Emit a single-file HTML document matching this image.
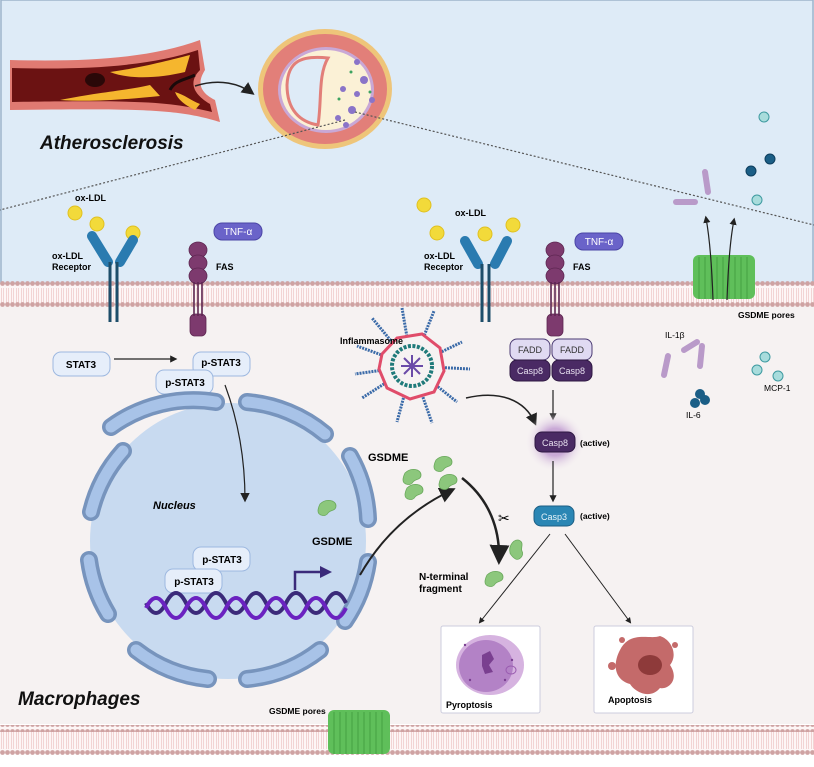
<!DOCTYPE html>
<html><head><meta charset="utf-8"><style>
html,body{margin:0;padding:0;background:#fff}
svg{display:block}
text{font-family:"Liberation Sans",sans-serif}
</style></head><body>
<svg width="814" height="767" viewBox="0 0 814 767" xmlns="http://www.w3.org/2000/svg">
<defs>
<pattern id="bead" x="0" y="0" width="5" height="7" patternUnits="userSpaceOnUse"><circle cx="2.5" cy="3.5" r="2.4" fill="#cfa3a3"/></pattern>
<pattern id="tail" width="5" height="18" patternUnits="userSpaceOnUse"><line x1="1.5" y1="0" x2="1.5" y2="18" stroke="#efcccc" stroke-width="0.8"/><line x1="3.5" y1="0" x2="3.5" y2="18" stroke="#efcccc" stroke-width="0.8"/></pattern>
<radialGradient id="glow"><stop offset="0.45" stop-color="#c9a9d6"/><stop offset="1" stop-color="#f6f2f2" stop-opacity="0"/></radialGradient>
<marker id="ar" markerWidth="8" markerHeight="8" refX="6" refY="4" orient="auto"><path d="M0,0 L8,4 L0,8 Z" fill="#222"/></marker>
<marker id="arB" markerWidth="6" markerHeight="6" refX="4" refY="3" orient="auto"><path d="M0,0 L6,3 L0,6 Z" fill="#222"/></marker>
<g id="gs"><path d="M0,0 c6,-6 16,-4 16,2 c0,5 -6,4 -8,7 c-2,4 -10,3 -10,-2 c0,-3 1,-5 2,-7z" fill="#8cc77c" stroke="#6aa95c" stroke-width="0.8"/></g>
<g id="pore"><rect x="0" y="0" width="62" height="44" rx="6" fill="#5fbf5a"/>
<g stroke="#3f9a3c" stroke-width="0.8"><line x1="6" y1="2" x2="6" y2="44"/><line x1="12" y1="2" x2="12" y2="44"/><line x1="18" y1="2" x2="18" y2="44"/><line x1="24" y1="2" x2="24" y2="44"/><line x1="30" y1="2" x2="30" y2="44"/><line x1="36" y1="2" x2="36" y2="44"/><line x1="42" y1="2" x2="42" y2="44"/><line x1="48" y1="2" x2="48" y2="44"/><line x1="54" y1="2" x2="54" y2="44"/></g></g>
</defs>

<rect x="0" y="0" width="814" height="284" fill="#deebf7"/>
<rect x="1" y="0" width="812" height="284" fill="none" stroke="#9db5cc" stroke-width="1.5"/>
<rect x="0" y="284" width="814" height="440" fill="#f6f2f2"/>
<rect x="0" y="755" width="814" height="12" fill="#ffffff"/>

<rect x="0" y="284" width="814" height="22" fill="#fdf6f6"/>
<rect x="0" y="288" width="814" height="16" fill="url(#tail)"/>
<rect x="0" y="280" width="814" height="7" fill="url(#bead)"/>
<rect x="0" y="302" width="814" height="7" fill="url(#bead)" transform="translate(0,0)"/>
<rect x="0" y="726" width="814" height="28" fill="#fdf6f6"/>
<rect x="0" y="731" width="814" height="18" fill="url(#tail)"/>
<rect x="0" y="725" width="814" height="7" fill="url(#bead)"/>
<rect x="0" y="748" width="814" height="7" fill="url(#bead)"/>

<path d="M10,60 C90,62 150,58 200,40 L205,70 C200,78 195,90 215,100 L220,122 C180,110 150,108 10,110 Z" fill="#e07a72"/>
<path d="M12,68 C90,70 150,66 198,50 L200,70 C190,80 190,92 210,104 L212,112 C170,102 150,100 12,102 Z" fill="#6b1212"/>
<path d="M110,72 C140,68 170,60 190,55 L185,72 C160,78 130,80 110,72 Z" fill="#f5b62e"/>
<path d="M60,100 C100,92 130,90 150,85 L160,96 C120,100 90,102 60,100 Z" fill="#f5b62e"/>
<path d="M175,92 C185,95 190,100 200,104 L195,110 C185,105 178,100 175,92Z" fill="#f5b62e"/>
<path d="M170,90 C175,80 185,80 195,75" stroke="#1a0a0a" stroke-width="3" fill="none"/>
<ellipse cx="95" cy="80" rx="10" ry="7" fill="#2a0808"/>
<path d="M195,86 C220,78 240,84 252,93" stroke="#222" stroke-width="1.6" fill="none" marker-end="url(#ar)"/>
<text x="40" y="149" font-size="19" font-weight="bold" font-style="italic" fill="#111">Atherosclerosis</text>
<ellipse cx="325" cy="89" rx="67" ry="60" fill="#eec57a"/>
<ellipse cx="325" cy="89" rx="62" ry="55" fill="#e27f79"/>
<ellipse cx="326" cy="90" rx="48" ry="43" fill="#c9a8d6"/>
<ellipse cx="326" cy="90" rx="45" ry="40" fill="#fbf1d6"/>
<path d="M287,85 C288,62 300,55 328,58 C318,75 322,100 318,125 C300,122 287,110 287,85Z" fill="#deebf7" stroke="#e27f79" stroke-width="3"/>
<g fill="#8a74c8"><circle cx="357" cy="62" r="3"/><circle cx="364" cy="80" r="4"/><circle cx="343" cy="89" r="3"/><circle cx="357" cy="94" r="3"/><circle cx="352" cy="110" r="4"/><circle cx="338" cy="118" r="3"/><circle cx="346" cy="125" r="3"/><circle cx="372" cy="100" r="3"/></g>
<g fill="#3da360"><circle cx="351" cy="72" r="1.5"/><circle cx="339" cy="99" r="1.5"/><circle cx="370" cy="92" r="1.5"/></g>
<line x1="345" y1="120" x2="0" y2="210" stroke="#555" stroke-width="1.2" stroke-dasharray="2,2"/>
<line x1="355" y1="112" x2="814" y2="225" stroke="#555" stroke-width="1.2" stroke-dasharray="2,2"/>

<circle cx="75" cy="213" r="7" fill="#f2da3a" stroke="#e0c020"/><circle cx="97" cy="224" r="7" fill="#f2da3a" stroke="#e0c020"/><circle cx="133" cy="233" r="7" fill="#f2da3a" stroke="#e0c020"/>
<path d="M92,236 L108,262" stroke="#2a7bb0" stroke-width="10" stroke-linecap="round"/>
<path d="M133,240 L120,262" stroke="#2a7bb0" stroke-width="10" stroke-linecap="round"/>
<path d="M110,262 L110,322 M117,262 L117,322" stroke="#1d4e6a" stroke-width="3"/>
<text x="75" y="201" font-size="9" font-weight="bold">ox-LDL</text>
<text x="52" y="259" font-size="9" font-weight="bold">ox-LDL</text><text x="52" y="270" font-size="9" font-weight="bold">Receptor</text>
<g fill="#7d3a6e" stroke="#5e2752" stroke-width="0.8">
<ellipse cx="198" cy="250" rx="9" ry="8"/><ellipse cx="198" cy="263" rx="9" ry="8"/><ellipse cx="198" cy="276" rx="9" ry="8"/>
<rect x="190" y="314" width="16" height="22" rx="5"/></g>
<path d="M194,282 V316 M198,282 V316 M202,282 V316" stroke="#5e2752" stroke-width="1.6"/>
<text x="216" y="270" font-size="9" font-weight="bold">FAS</text>
<rect x="214" y="223" width="48" height="17" rx="8" fill="#6a63c9" stroke="#4b45a6"/><text x="238" y="235" font-size="10" fill="#fff" text-anchor="middle">TNF-α</text>

<circle cx="424" cy="205" r="7" fill="#f2da3a" stroke="#e0c020"/><circle cx="437" cy="233" r="7" fill="#f2da3a" stroke="#e0c020"/><circle cx="485" cy="234" r="7" fill="#f2da3a" stroke="#e0c020"/><circle cx="513" cy="225" r="7" fill="#f2da3a" stroke="#e0c020"/>
<path d="M465,241 L478,264" stroke="#2a7bb0" stroke-width="10" stroke-linecap="round"/>
<path d="M507,241 L495,264" stroke="#2a7bb0" stroke-width="10" stroke-linecap="round"/>
<path d="M482,264 V322 M489,264 V322" stroke="#1d4e6a" stroke-width="3"/>
<text x="455" y="216" font-size="9" font-weight="bold">ox-LDL</text>
<text x="424" y="259" font-size="9" font-weight="bold">ox-LDL</text><text x="424" y="270" font-size="9" font-weight="bold">Receptor</text>
<g fill="#7d3a6e" stroke="#5e2752" stroke-width="0.8">
<ellipse cx="555" cy="250" rx="9" ry="8"/><ellipse cx="555" cy="263" rx="9" ry="8"/><ellipse cx="555" cy="276" rx="9" ry="8"/>
<rect x="547" y="314" width="16" height="22" rx="5"/></g>
<path d="M551,282 V316 M555,282 V316 M559,282 V316" stroke="#5e2752" stroke-width="1.6"/>
<text x="573" y="270" font-size="9" font-weight="bold">FAS</text>
<rect x="575" y="233" width="48" height="17" rx="8" fill="#6a63c9" stroke="#4b45a6"/><text x="599" y="245" font-size="10" fill="#fff" text-anchor="middle">TNF-α</text>

<use href="#pore" x="693" y="255"/>
<path d="M713,300 C712,270 710,240 706,218" stroke="#222" stroke-width="1.2" fill="none" marker-end="url(#arB)"/>
<path d="M727,300 C728,270 730,240 734,220" stroke="#222" stroke-width="1.2" fill="none" marker-end="url(#arB)"/>
<text x="738" y="318" font-size="8.5" font-weight="bold">GSDME pores</text>
<path d="M705,172 L708,192" stroke="#b99ac9" stroke-width="6" stroke-linecap="round"/>
<path d="M676,202 L695,202" stroke="#b99ac9" stroke-width="6" stroke-linecap="round"/>
<circle cx="764" cy="117" r="5" fill="#a8dcdc" stroke="#3e9aa0"/><circle cx="770" cy="159" r="5" fill="#1b5e86" stroke="#0e3e5e"/><circle cx="751" cy="171" r="5" fill="#1b5e86" stroke="#0e3e5e"/><circle cx="757" cy="200" r="5" fill="#a8dcdc" stroke="#3e9aa0"/>
<text x="665" y="338" font-size="8.5">IL-1β</text>
<path d="M684,350 L697,342 M668,356 L664,375 M702,346 L700,366" stroke="#b99ac9" stroke-width="6" stroke-linecap="round"/>
<circle cx="765" cy="357" r="5" fill="#a8dcdc" stroke="#3e9aa0"/><circle cx="757" cy="370" r="5" fill="#a8dcdc" stroke="#3e9aa0"/><circle cx="778" cy="376" r="5" fill="#a8dcdc" stroke="#3e9aa0"/>
<text x="764" y="391" font-size="8.5">MCP-1</text>
<circle cx="695" cy="403" r="5" fill="#1b5e86"/><circle cx="705" cy="400" r="5" fill="#1b5e86"/><circle cx="700" cy="394" r="5" fill="#1b5e86"/>
<text x="686" y="418" font-size="8.5">IL-6</text>

<rect x="53" y="352" width="57" height="24" rx="8" fill="#e6eefa" stroke="#9db8e0"/><text x="81" y="368" font-size="10" font-weight="bold" text-anchor="middle">STAT3</text>
<line x1="114" y1="359" x2="175" y2="359" stroke="#222" stroke-width="1.2" marker-end="url(#arB)"/>
<rect x="193" y="352" width="57" height="24" rx="8" fill="#e6eefa" stroke="#9db8e0"/><text x="221" y="366" font-size="10" font-weight="bold" text-anchor="middle">p-STAT3</text>
<rect x="156" y="370" width="57" height="24" rx="8" fill="#e6eefa" stroke="#9db8e0"/><text x="185" y="386" font-size="10" font-weight="bold" text-anchor="middle">p-STAT3</text>

<circle cx="228" cy="541" r="138" fill="#c8daf0"/>
<g fill="none" stroke="#7794bd" stroke-width="18" stroke-linecap="round">
<path d="M111,427 A140,140 0 0 1 216,402"/><path d="M247,402 A140,140 0 0 1 325,434"/>
<path d="M350,456 A140,140 0 0 1 368,519"/><path d="M368,562 A140,140 0 0 1 345,621"/>
<path d="M320,650 A140,140 0 0 1 247,679"/><path d="M208,679 A140,140 0 0 1 136,650"/>
<path d="M108,614 A140,140 0 0 1 89,560"/><path d="M91,512 A140,140 0 0 1 123,451"/>
</g>
<g fill="none" stroke="#a8c3e8" stroke-width="11" stroke-linecap="round">
<path d="M111,427 A140,140 0 0 1 216,402"/><path d="M247,402 A140,140 0 0 1 325,434"/>
<path d="M350,456 A140,140 0 0 1 368,519"/><path d="M368,562 A140,140 0 0 1 345,621"/>
<path d="M320,650 A140,140 0 0 1 247,679"/><path d="M208,679 A140,140 0 0 1 136,650"/>
<path d="M108,614 A140,140 0 0 1 89,560"/><path d="M91,512 A140,140 0 0 1 123,451"/>
</g>
<path d="M225,385 C238,420 245,460 245,500" stroke="#222" stroke-width="1.2" fill="none" marker-end="url(#ar)"/>
<text x="153" y="509" font-size="11" font-weight="bold" font-style="italic">Nucleus</text>
<use href="#gs" x="320" y="504"/>
<text x="312" y="545" font-size="11" font-weight="bold">GSDME</text>
<rect x="193" y="547" width="57" height="24" rx="8" fill="#e6eefa" stroke="#9db8e0"/><text x="222" y="563" font-size="10" font-weight="bold" text-anchor="middle">p-STAT3</text>
<rect x="165" y="569" width="57" height="24" rx="8" fill="#e6eefa" stroke="#9db8e0"/><text x="194" y="585" font-size="10" font-weight="bold" text-anchor="middle">p-STAT3</text>
<path d="M295,590 V572 H322" stroke="#3b2a7a" stroke-width="2.5" fill="none"/><path d="M320,566 L332,572 L320,578Z" fill="#3b2a7a"/>
<path d="M146,598 Q156,618 166,598 T186,598 T206,598 T226,598 T246,598 T266,598 T286,598 T306,598 T326,598 T346,598" stroke="#3b2a7a" stroke-width="4" fill="none" transform="translate(0,5)"/>
<path d="M146,613 Q156,593 166,613 T186,613 T206,613 T226,613 T246,613 T266,613 T286,613 T306,613 T326,613 T346,613" stroke="#6a22c0" stroke-width="4" fill="none" transform="translate(0,-5)"/>

<path d="M360,575 C380,540 410,510 452,490" stroke="#222" stroke-width="2" fill="none" marker-end="url(#ar)"/>
<text x="368" y="461" font-size="11" font-weight="bold">GSDME</text>
<use href="#gs" x="405" y="473"/><use href="#gs" x="436" y="460"/><use href="#gs" x="407" y="488"/><use href="#gs" x="441" y="478"/>
<path d="M462,478 C490,500 500,530 499,560" stroke="#222" stroke-width="2.5" fill="none" marker-end="url(#ar)"/>
<text x="498" y="523" font-size="14">✂</text>
<use href="#gs" x="511" y="545" transform="rotate(-60 518 550)"/>
<use href="#gs" x="487" y="575"/>
<text x="419" y="580" font-size="10" font-weight="bold">N-terminal</text><text x="419" y="592" font-size="10" font-weight="bold">fragment</text>

<g transform="translate(412,366)">
<g stroke="#3a6aa8" stroke-width="3" stroke-dasharray="2,1">
<line x1="0" y1="0" x2="-55" y2="-20"/><line x1="0" y1="0" x2="-40" y2="-48"/><line x1="0" y1="0" x2="-10" y2="-58"/><line x1="0" y1="0" x2="22" y2="-55"/><line x1="0" y1="0" x2="50" y2="-24"/><line x1="0" y1="0" x2="58" y2="3"/><line x1="0" y1="0" x2="45" y2="36"/><line x1="0" y1="0" x2="20" y2="57"/><line x1="0" y1="0" x2="-15" y2="56"/><line x1="0" y1="0" x2="-50" y2="32"/><line x1="0" y1="0" x2="-57" y2="8"/></g>
<polygon points="-30,-12 -15,-28 10,-32 28,-18 32,5 22,26 -2,33 -25,22 -33,3" fill="#f6f2f2" stroke="#e04c6a" stroke-width="3"/>
<circle r="20" fill="none" stroke="#1f7a7a" stroke-width="4" stroke-dasharray="3,1.5"/>
<circle r="14" fill="#f6f2f2"/>
<g stroke="#6a4aa8" stroke-width="2"><line x1="-11" y1="0" x2="11" y2="0"/><line x1="0" y1="-11" x2="0" y2="11"/><line x1="-8" y1="-8" x2="8" y2="8"/><line x1="-8" y1="8" x2="8" y2="-8"/></g>
</g>
<text x="340" y="344" font-size="9" font-weight="bold">Inflammasome</text>
<path d="M466,398 C500,390 525,400 535,423" stroke="#222" stroke-width="1.5" fill="none" marker-end="url(#ar)"/>

<rect x="510" y="339" width="40" height="21" rx="7" fill="#e0daf2" stroke="#4a3a72"/><text x="530" y="353" font-size="9" text-anchor="middle" fill="#333">FADD</text>
<rect x="552" y="339" width="40" height="21" rx="7" fill="#e0daf2" stroke="#4a3a72"/><text x="572" y="353" font-size="9" text-anchor="middle" fill="#333">FADD</text>
<rect x="510" y="360" width="40" height="21" rx="7" fill="#4a2a64" stroke="#2e1842"/><text x="530" y="374" font-size="9" text-anchor="middle" fill="#e8e0f0">Casp8</text>
<rect x="552" y="360" width="40" height="21" rx="7" fill="#4a2a64" stroke="#2e1842"/><text x="572" y="374" font-size="9" text-anchor="middle" fill="#e8e0f0">Casp8</text>
<line x1="553" y1="390" x2="553" y2="418" stroke="#222" stroke-width="1.2" marker-end="url(#arB)"/>
<circle cx="555" cy="442" r="30" fill="url(#glow)"/>
<rect x="535" y="432" width="40" height="20" rx="7" fill="#4a2a64" stroke="#2e1842"/><text x="555" y="446" font-size="9" text-anchor="middle" fill="#e8e0f0">Casp8</text>
<text x="580" y="446" font-size="8.5" font-weight="bold">(active)</text>
<line x1="553" y1="461" x2="553" y2="500" stroke="#222" stroke-width="1.2" marker-end="url(#arB)"/>
<rect x="534" y="506" width="40" height="20" rx="7" fill="#2a86b4" stroke="#1c5f84"/><text x="554" y="520" font-size="9" text-anchor="middle" fill="#e8f4fa">Casp3</text>
<text x="580" y="519" font-size="8.5" font-weight="bold">(active)</text>
<line x1="550" y1="534" x2="480" y2="622" stroke="#222" stroke-width="1" marker-end="url(#arB)"/>
<line x1="565" y1="534" x2="630" y2="622" stroke="#222" stroke-width="1" marker-end="url(#arB)"/>

<rect x="441" y="626" width="99" height="87" rx="2" fill="#fff" stroke="#ccd"/>
<ellipse cx="490" cy="665" rx="34" ry="30" fill="#d6b3e0"/><ellipse cx="486" cy="666" rx="27" ry="26" fill="#b382c6"/><path d="M482,655 l8,-4 l4,8 l-5,6 l4,7 l-8,2 l-3,-8z" fill="#7a3f90"/>
<g fill="#7a3f90"><circle cx="465" cy="645" r="1.2"/><circle cx="512" cy="660" r="1.2"/><circle cx="505" cy="680" r="1.2"/><circle cx="470" cy="680" r="1.2"/></g>
<ellipse cx="511" cy="670" rx="5" ry="4" fill="none" stroke="#9a5cb0"/>
<text x="446" y="708" font-size="9" font-weight="bold">Pyroptosis</text>
<rect x="594" y="626" width="99" height="87" rx="2" fill="#fff" stroke="#ccd"/>
<path d="M620,650 C630,630 650,640 660,636 C672,640 678,655 670,665 C680,680 668,690 660,688 C650,700 635,692 630,684 C615,680 612,665 620,650Z" fill="#c46a6a"/>
<ellipse cx="650" cy="665" rx="12" ry="10" fill="#8e3a3a"/>
<circle cx="612" cy="666" r="4" fill="#c46a6a"/><circle cx="675" cy="645" r="3" fill="#c46a6a"/><circle cx="622" cy="640" r="3" fill="#c46a6a"/>
<text x="608" y="703" font-size="9" font-weight="bold">Apoptosis</text>

<text x="18" y="705" font-size="19" font-weight="bold" font-style="italic" fill="#111">Macrophages</text>
<text x="269" y="714" font-size="8.5" font-weight="bold">GSDME pores</text>
<use href="#pore" x="328" y="710"/>
</svg>
</body></html>
